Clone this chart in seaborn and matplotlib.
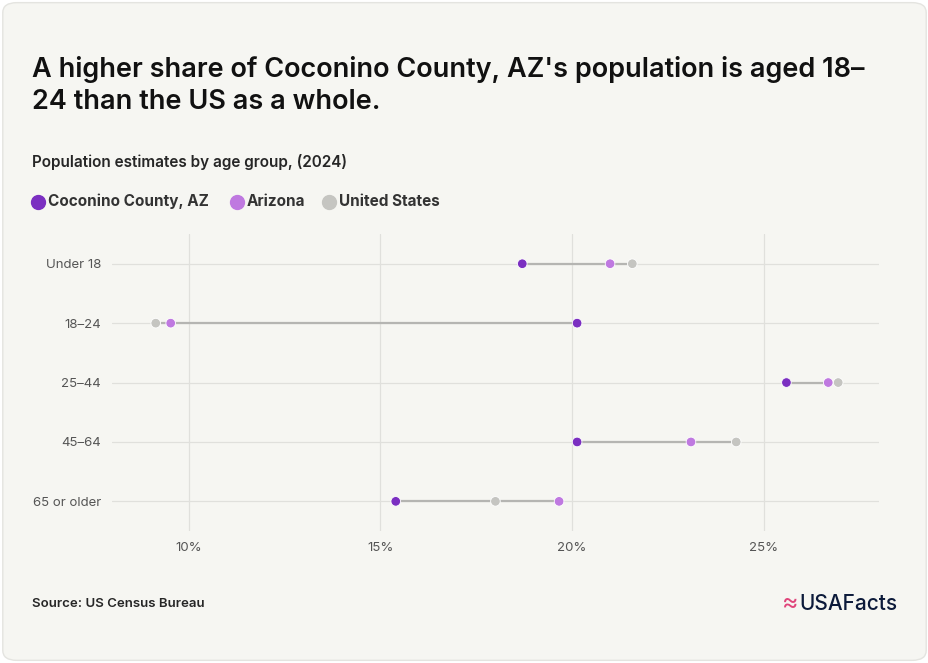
import matplotlib
matplotlib.use("Agg")
import matplotlib.pyplot as plt
import pandas as pd
import seaborn as sns
from matplotlib.patches import FancyBboxPatch
from matplotlib.lines import Line2D

sns.set_style("white")
plt.rcParams['font.family'] = ['Inter', 'DejaVu Sans']

groups = ["Under 18", "18\u201324", "25\u201344", "45\u201364", "65 or older"]
coconino = [18.7, 20.13, 25.59, 20.13, 15.4]
arizona = [20.99, 9.53, 26.68, 23.1, 19.66]
us = [21.57, 9.14, 26.94, 24.28, 18.0]

series = ["Coconino County, AZ", "Arizona", "United States"]
colors = {"Coconino County, AZ": "#7b2fc1", "Arizona": "#bf79e0", "United States": "#c5c5c1"}

df = pd.DataFrame({"group": groups * 3,
                   "value": coconino + arizona + us,
                   "series": [s for s in series for _ in groups]})

bg = "#f6f6f2"
fig = plt.figure(figsize=(9.29, 6.63), dpi=100)
fig.patch.set_facecolor("white")
card = FancyBboxPatch((0.003, 0.004), 0.994, 0.992, boxstyle="round,pad=0,rounding_size=0.015",
                      transform=fig.transFigure, facecolor=bg, edgecolor="#e4e4e0", lw=1, zorder=-10)
fig.patches.append(card)

ax = fig.add_axes([0.1206, 0.199, 0.8254, 0.448])
ax.set_zorder(5)
ax.patch.set_alpha(0)

for i, g in enumerate(groups):
    vals = [coconino[i], arizona[i], us[i]]
    ax.plot([min(vals), max(vals)], [i, i], color="#b5b5b2", lw=1.6, zorder=2)

sns.scatterplot(data=df, x="value", y="group", hue="series", palette=colors, s=48,
                edgecolor="white", linewidth=0.6, legend=False, ax=ax, zorder=3)

ax.set_xlim(8, 28)
ax.set_ylim(4.5, -0.5)
ax.set_xticks([10, 15, 20, 25])
ax.set_xticklabels(["10%", "15%", "20%", "25%"])
ax.grid(True, color="#e0e0dc", lw=0.9)
ax.set_axisbelow(True)
for s in ax.spines.values():
    s.set_visible(False)
ax.tick_params(length=0, labelsize=9.5, labelcolor="#555555", pad=8)
ax.set_xlabel("")
ax.set_ylabel("")

fig.text(0.034, 0.915, "A higher share of Coconino County, AZ's population is aged 18\u2013\n24 than the US as a whole.",
         fontsize=19.5, fontweight="semibold", va="top", linespacing=1.3, color="#111111")
fig.text(0.034, 0.755, "Population estimates by age group, (2024)", fontsize=11, fontweight="semibold", va="center")

x = 0.034
for name in series:
    fig.add_artist(Line2D([x + 0.007], [0.696], marker="o", markersize=10, color=colors[name],
                          transform=fig.transFigure, linestyle="none"))
    fig.text(x + 0.018, 0.696, name, fontsize=11, fontweight="bold", va="center", color="#333333")
    x += {"Coconino County, AZ": 0.214, "Arizona": 0.099, "United States": 0.15}[name]

fig.text(0.034, 0.089, "Source: US Census Bureau", fontsize=9.5, fontweight="semibold", va="center")
fig.text(0.966, 0.089, "USAFacts", fontsize=15, fontweight="medium", va="center", ha="right", color="#0c1a3a")
fig.text(0.851, 0.089, "\u2248", fontsize=18, va="center", ha="center", color="#e0457b")

plt.savefig("out.png", dpi=100, facecolor="white")
